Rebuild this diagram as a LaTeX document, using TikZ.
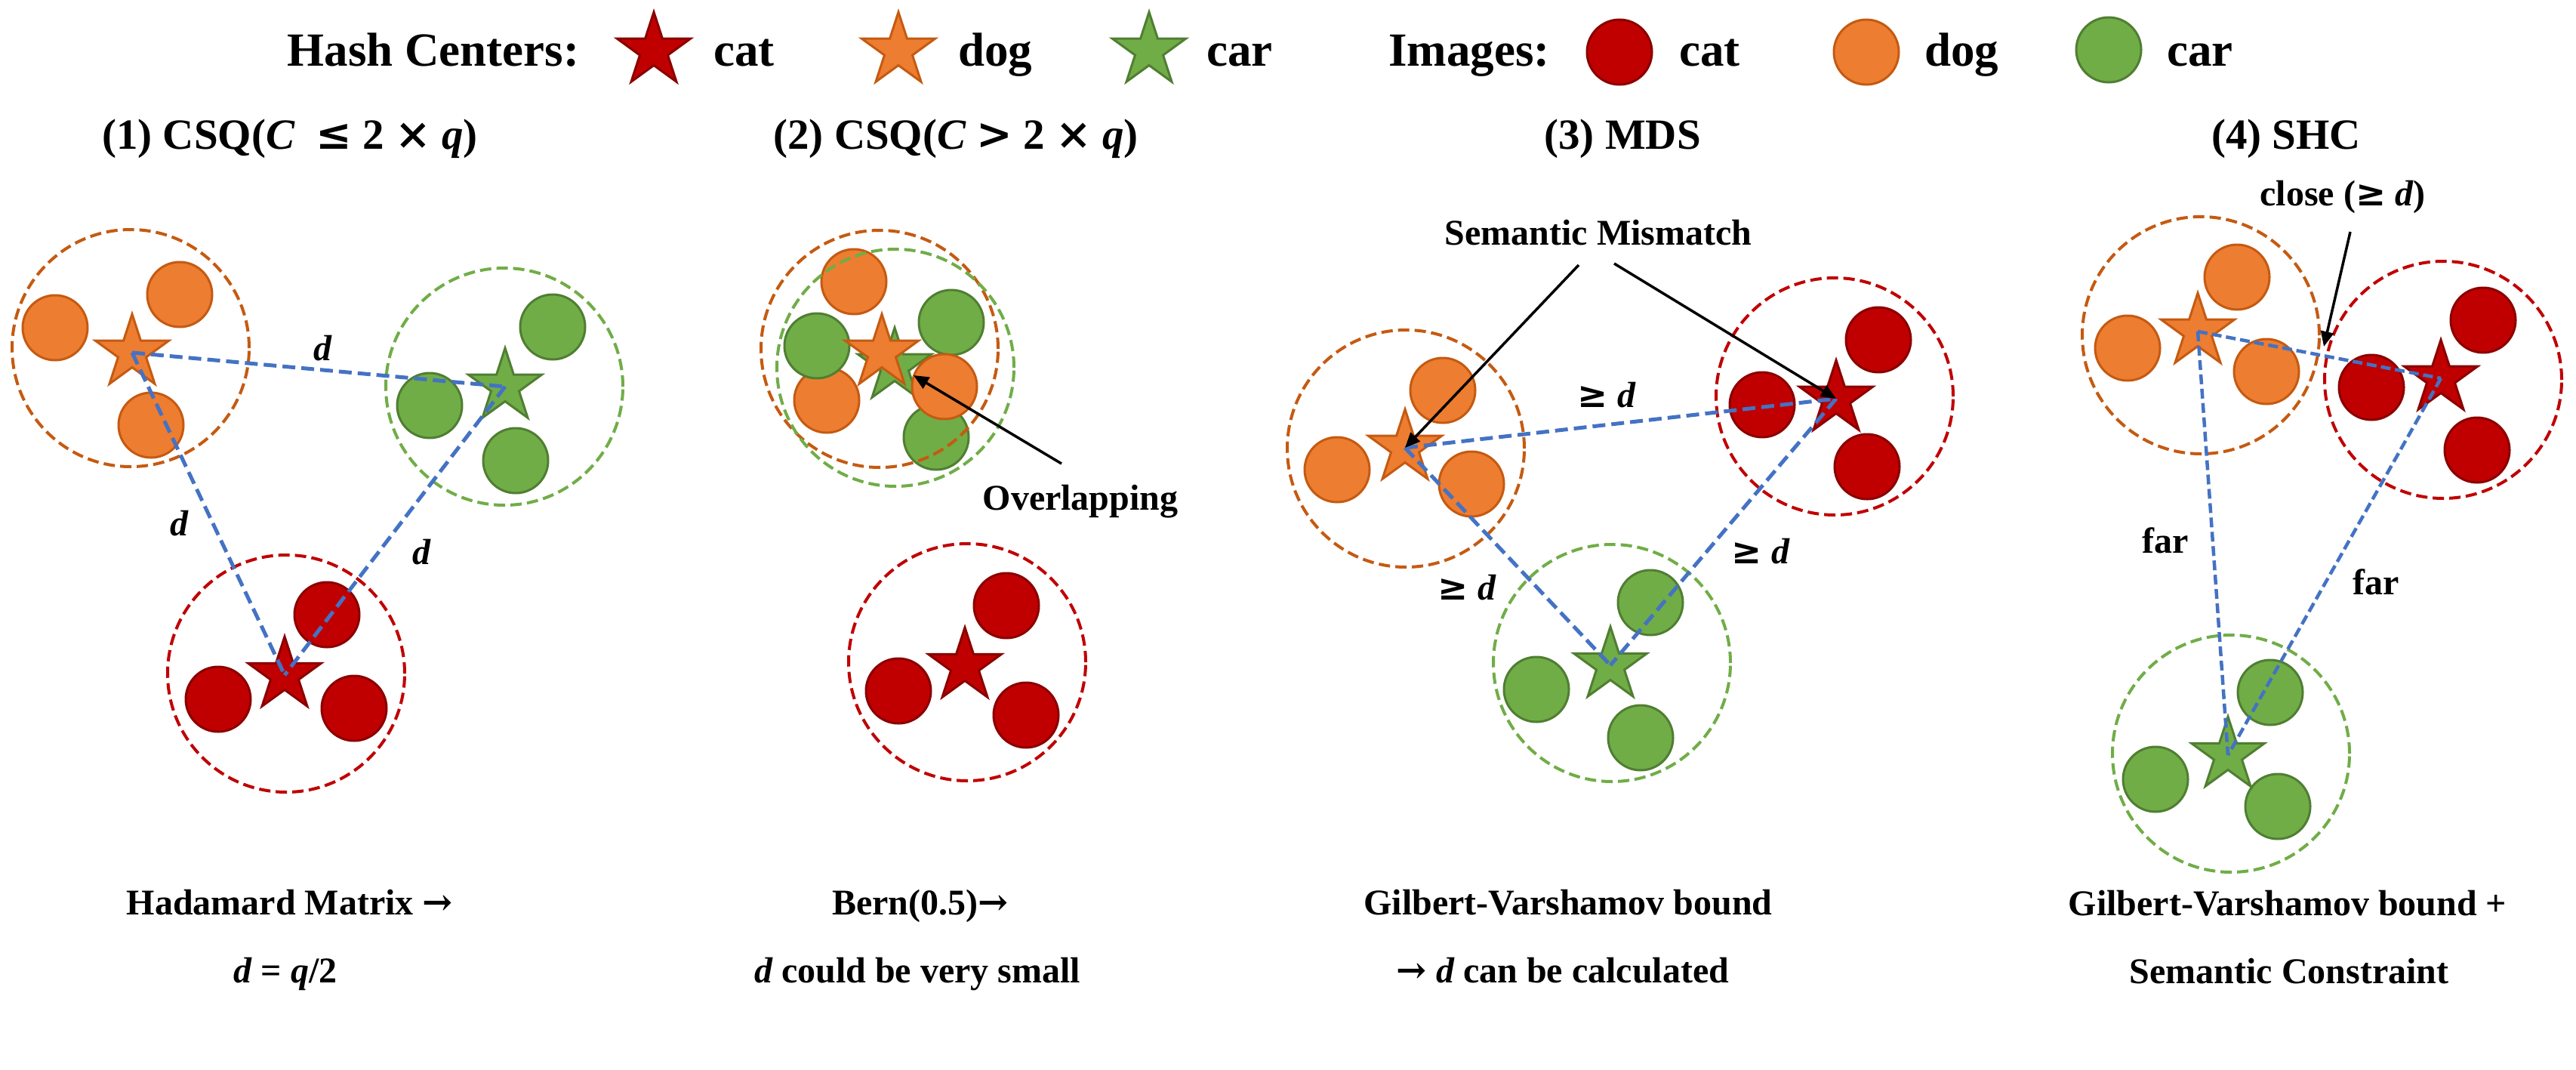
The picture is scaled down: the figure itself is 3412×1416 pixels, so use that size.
\documentclass[tikz,border=0pt]{standalone}
\usepackage{fontspec}
\setmainfont{Liberation Serif}
\newfontfamily\symf{DejaVu Serif}
\newcommand{\itl}[1]{{\itshape #1}}
\newcommand{\sym}[1]{{\symf #1}}
\usetikzlibrary{shapes.geometric,arrows.meta}
\definecolor{orfill}{HTML}{ED7D31}
\definecolor{ordark}{HTML}{C55A11}
\definecolor{grfill}{HTML}{70AD47}
\definecolor{grdark}{HTML}{507E32}
\definecolor{rdfill}{HTML}{C00000}
\definecolor{rddark}{HTML}{8B0000}
\definecolor{bluel}{HTML}{4472C4}
\begin{document}
\begin{tikzpicture}[x=1pt,y=-1pt,
  hstar/.style={star, star points=5, star point ratio=2.618, minimum size=102pt, inner sep=0pt, line width=3pt},
  catstar/.style={hstar, fill=rdfill, draw=rddark},
  dogstar/.style={hstar, fill=orfill, draw=ordark},
  carstar/.style={hstar, fill=grfill, draw=grdark},
  img/.style={circle, minimum size=86pt, inner sep=0pt, line width=3pt},
  catimg/.style={img, fill=rdfill, draw=rddark},
  dogimg/.style={img, fill=orfill, draw=ordark},
  carimg/.style={img, fill=grfill, draw=grdark},
  clus/.style={circle, minimum size=314pt, inner sep=0pt, line width=4pt, dash pattern=on 15pt off 7pt},
  catclus/.style={clus, draw=rdfill},
  dogclus/.style={clus, draw=ordark},
  carclus/.style={clus, draw=grfill},
  link/.style={draw=bluel, line width=5pt, dash pattern=on 17pt off 8pt},
  linkb/.style={draw=bluel, line width=4.5pt, dash pattern=on 13pt off 6pt},
  ptr/.style={draw=black, line width=3.5pt, -{Triangle[length=20pt,width=17pt]}},
  legtxt/.style={font=\fontsize{63}{70}\selectfont\bfseries, inner sep=0pt},
  subt/.style={font=\fontsize{57}{64}\selectfont\bfseries, inner sep=0pt},
  lbl/.style={font=\fontsize{48}{56}\selectfont\bfseries, inner sep=0pt}
]
\fill[white] (0,0) rectangle (3412,1416);
\useasboundingbox (0,0) rectangle (3412,1416);

% ---------------- legend
\node[legtxt, anchor=base] (lgH) at (574,87) {Hash Centers:};
\node[catstar] (lgs1) at (866,67) {};
\node[legtxt, anchor=base west] (lgs1t) at (945,87) {cat};
\node[dogstar] (lgs2) at (1190,67) {};
\node[legtxt, anchor=base west] (lgs2t) at (1269,87) {dog};
\node[carstar] (lgs3) at (1522,67) {};
\node[legtxt, anchor=base west] (lgs3t) at (1598,87) {car};
\node[legtxt, anchor=base west] (lgI) at (1839,87) {Images:};
\node[catimg] (lgc1) at (2145,69) {};
\node[legtxt, anchor=base west] (lgc1t) at (2224,87) {cat};
\node[dogimg] (lgc2) at (2472,69) {};
\node[legtxt, anchor=base west] (lgc2t) at (2549,87) {dog};
\node[carimg] (lgc3) at (2793,66) {};
\node[legtxt, anchor=base west] (lgc3t) at (2870,87) {car};

% ---------------- subtitles
\node[subt, anchor=base] (st1) at (384,197) {(1) CSQ(\itl{C}\ \ \sym{≤} 2 \sym{×} \itl{q})};
\node[subt, anchor=base] (st2) at (1266,197) {(2) CSQ(\itl{C} \sym{>} 2 \sym{×} \itl{q})};
\node[subt, anchor=base] (st3) at (2149,197) {(3) MDS};
\node[subt, anchor=base] (st4) at (3028,197) {(4) SHC};

% ---------------- panel 1
\node[dogimg] (p1o1) at (73,434) {};
\node[dogimg] (p1o2) at (238,390) {};
\node[dogimg] (p1o3) at (200,563) {};
\node[dogstar] (p1os) at (175,467) {};
\node[carimg] (p1g1) at (732,433) {};
\node[carimg] (p1g2) at (569,537) {};
\node[carimg] (p1g3) at (683,610) {};
\node[carstar] (p1gs) at (669,512) {};
\node[catimg] (p1r1) at (433,814) {};
\node[catimg] (p1r2) at (289,926) {};
\node[catimg] (p1r3) at (469,938) {};
\node[catstar] (p1rs) at (377,894) {};
\node[dogclus] (p1oc) at (173,461) {};
\node[carclus] (p1gc) at (668,512) {};
\node[catclus] (p1rc) at (379,892) {};
\draw[link] (p1os.center) -- (p1gs.center);
\draw[link] (p1os.center) -- (p1rs.center);
\draw[link] (p1gs.center) -- (p1rs.center);
\node[lbl] (p1d1) at (427,461) {\itl{d}};
\node[lbl] (p1d2) at (237,693) {\itl{d}};
\node[lbl] (p1d3) at (558,731) {\itl{d}};

% ---------------- panel 2
\node[dogimg] (p2o2) at (1095,530) {};
\node[carimg] (p2g1) at (1082,458) {};
\node[dogimg] (p2o1) at (1131,373) {};
\node[carimg] (p2g2) at (1260,427) {};
\node[carimg] (p2g3) at (1240,579) {};
\node[carstar] (p2gs) at (1185,485) {};
\node[dogstar] (p2os) at (1168,467) {};
\node[dogimg] (p2o3) at (1251,512) {};
\node[dogclus] (p2oc) at (1165,462) {};
\node[carclus] (p2gc) at (1186,487) {};
\node[catimg] (p2r1) at (1333,802) {};
\node[catimg] (p2r2) at (1190,915) {};
\node[catimg] (p2r3) at (1359,947) {};
\node[catstar] (p2rs) at (1278,882) {};
\node[catclus] (p2rc) at (1281,877) {};
\node[lbl, anchor=base] (p2ov) at (1431,675) {Overlapping};
\coordinate (p2a0) at (1406,614);
\coordinate (p2a1) at (1210,497);
\draw[ptr] (p2a0) -- (p2a1);

% ---------------- panel 3
\node[dogimg] (p3o1) at (1911,517) {};
\node[dogimg] (p3o2) at (1771,622) {};
\node[dogimg] (p3o3) at (1949,641) {};
\node[dogstar] (p3os) at (1861,593) {};
\node[catimg] (p3r1) at (2488,450) {};
\node[catimg] (p3r2) at (2334,536) {};
\node[catimg] (p3r3) at (2473,618) {};
\node[catstar] (p3rs) at (2432,528) {};
\node[carimg] (p3g1) at (2186,798) {};
\node[carimg] (p3g2) at (2035,913) {};
\node[carimg] (p3g3) at (2173,977) {};
\node[carstar] (p3gs) at (2133,881) {};
\node[dogclus] (p3oc) at (1862,594) {};
\node[catclus] (p3rc) at (2430,525) {};
\node[carclus] (p3gc) at (2135,878) {};
\draw[link] (p3os.center) -- (p3rs.center);
\draw[link] (p3os.center) -- (p3gs.center);
\draw[link] (p3rs.center) -- (p3gs.center);
\node[lbl] (p3d1) at (2128,523) {\sym{≥} \itl{d}};
\node[lbl] (p3d2) at (2332,730) {\sym{≥} \itl{d}};
\node[lbl] (p3d3) at (1943,778) {\sym{≥} \itl{d}};
\node[lbl, anchor=base] (p3sm) at (2117,324) {Semantic Mismatch};
\coordinate (p3a0) at (2091,351);
\coordinate (p3b0) at (2138,349);
\draw[ptr] (p3a0) -- (p3os.center);
\draw[ptr] (p3b0) -- (p3rs.center);

% ---------------- panel 4
\node[dogimg] (p4o1) at (2963,367) {};
\node[dogimg] (p4o2) at (2818,461) {};
\node[dogimg] (p4o3) at (3002,492) {};
\node[dogstar] (p4os) at (2911,439) {};
\node[catimg] (p4r1) at (3289,424) {};
\node[catimg] (p4r2) at (3141,513) {};
\node[catimg] (p4r3) at (3281,596) {};
\node[catstar] (p4rs) at (3233,501) {};
\node[carimg] (p4g1) at (3007,917) {};
\node[carimg] (p4g2) at (2855,1032) {};
\node[carimg] (p4g3) at (3017,1068) {};
\node[carstar] (p4gs) at (2951,1000) {};
\node[dogclus] (p4oc) at (2915,444) {};
\node[catclus] (p4rc) at (3236,503) {};
\node[carclus] (p4gc) at (2955,998) {};
\draw[linkb] (p4os.center) -- (p4rs.center);
\draw[linkb] (p4os.center) -- (p4gs.center);
\draw[linkb] (p4rs.center) -- (p4gs.center);
\node[lbl] (p4f1) at (2868,716) {far};
\node[lbl] (p4f2) at (3147,771) {far};
\node[lbl] (p4cl) at (3103,261) {close (\sym{≥} \itl{d})};
\coordinate (p4a0) at (3113,307);
\coordinate (p4a1) at (3078,459);
\draw[ptr] (p4a0) -- (p4a1);

% ---------------- bottom texts
\node[lbl, anchor=base] (b1a) at (384,1211) {Hadamard Matrix \sym{→}};
\node[lbl, anchor=base] (b1b) at (378,1301) {\itl{d} = \itl{q}/2};
\node[lbl, anchor=base] (b2a) at (1219,1211) {Bern(0.5)\sym{→}};
\node[lbl, anchor=base] (b2b) at (1215,1301) {\itl{d} could be very small};
\node[lbl, anchor=base] (b3a) at (2077,1211) {Gilbert-Varshamov bound};
\node[lbl, anchor=base] (b3b) at (2070,1301) {\sym{→} \itl{d} can be calculated};
\node[lbl, anchor=base] (b4a) at (3030,1212) {Gilbert-Varshamov bound +};
\node[lbl, anchor=base] (b4b) at (3032,1302) {Semantic Constraint};
\end{tikzpicture}
\end{document}
